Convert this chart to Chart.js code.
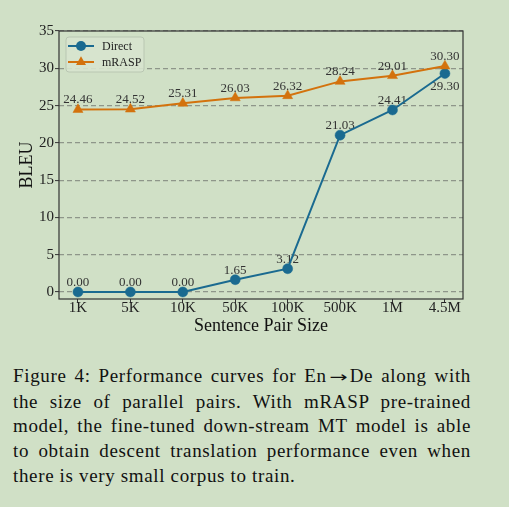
<!DOCTYPE html>
<html><head><meta charset="utf-8">
<script src="https://cdn.jsdelivr.net/npm/chart.js@4.4.0/dist/chart.umd.min.js"></script>
<style>
html,body{margin:0;padding:0;background:#d0e0c6;width:509px;height:507px;overflow:hidden;}
#wrap{position:absolute;left:0;top:0;width:509px;height:345px;}
#cap{position:absolute;left:13px;top:364px;width:458px;font-family:'Liberation Serif','Times New Roman',serif;font-size:19px;line-height:24.7px;letter-spacing:0.65px;text-align:justify;color:#111;}
#arr{display:inline-block;width:23px;text-align:center;letter-spacing:0;}
#arr span{display:inline-block;font-family:'DejaVu Sans',sans-serif;font-size:15px;transform:scaleX(1.45);}
</style></head><body>
<div id="wrap"><canvas id="c" width="509" height="345"></canvas></div>
<div id="cap">Figure 4: Performance curves for En<span id="arr"><span>→</span></span>De along with the size of parallel pairs. With mRASP pre-trained model, the fine-tuned down-stream MT model is able to obtain descent translation performance even when there is very small corpus to train.</div>
<script>
const categories = ['1K','5K','10K','50K','100K','500K','1M','4.5M'];
const directValues = [0.00, 0.00, 0.00, 1.65, 3.12, 21.03, 24.41, 29.30];
const mraspValues = [24.46, 24.52, 25.31, 26.03, 26.32, 28.24, 29.01, 30.30];
const yTicks = [0, 5, 10, 15, 20, 25, 30, 35];
const seriesNames = ['Direct', 'mRASP'];

const BLUE = '#1a6a90', ORANGE = '#d3720d';
const SERIF = "'Liberation Serif','Times New Roman',serif";

const toPts = vals => vals.map((v, i) => ({x: i, y: v}));

const framePlugin = {
  id: 'frameAndLabels',
  beforeDatasetsDraw(chart) {
    const ctx = chart.ctx, a = chart.chartArea;
    ctx.save();
    ctx.strokeStyle = '#333';
    ctx.lineWidth = 1.2;
    ctx.strokeRect(a.left, a.top, a.right - a.left, a.bottom - a.top);
    ctx.font = '13px ' + SERIF;
    ctx.fillStyle = '#333';
    ctx.textAlign = 'center';
    ctx.textBaseline = 'alphabetic';
    chart.data.datasets.forEach((ds, di) => {
      const meta = chart.getDatasetMeta(di);
      meta.data.forEach((pt, i) => {
        const v = ds.data[i].y;
        const below = (di === 0 && i === ds.data.length - 1);
        const cy = below ? pt.y + 12 : pt.y - 10.5;
        ctx.fillText(v.toFixed(2), pt.x, cy + 4.4);
      });
    });
    ctx.restore();
  },
  afterDraw(chart) {
    const ctx = chart.ctx;
    ctx.save();
    const lx = 66, ly = 37, lw = 78, lh = 35, r = 3;
    ctx.beginPath();
    ctx.moveTo(lx + r, ly);
    ctx.arcTo(lx + lw, ly, lx + lw, ly + lh, r);
    ctx.arcTo(lx + lw, ly + lh, lx, ly + lh, r);
    ctx.arcTo(lx, ly + lh, lx, ly, r);
    ctx.arcTo(lx, ly, lx + lw, ly, r);
    ctx.closePath();
    ctx.fillStyle = 'rgba(215,228,206,0.9)';
    ctx.fill();
    ctx.strokeStyle = 'rgba(185,198,178,1)';
    ctx.lineWidth = 1;
    ctx.stroke();
    const rows = [46, 62];
    chart.data.datasets.forEach((ds, di) => {
      const y = rows[di];
      ctx.strokeStyle = ds.borderColor;
      ctx.lineWidth = 2;
      ctx.beginPath(); ctx.moveTo(68, y); ctx.lineTo(94, y); ctx.stroke();
      ctx.fillStyle = ds.borderColor;
      ctx.beginPath();
      if (ds.pointStyle === 'circle') {
        ctx.arc(81, y, 5, 0, Math.PI * 2);
      } else {
        const R = 5.8;
        ctx.moveTo(81, y - R);
        ctx.lineTo(81 + R * 0.866, y + R * 0.5);
        ctx.lineTo(81 - R * 0.866, y + R * 0.5);
        ctx.closePath();
      }
      ctx.fill();
      ctx.fillStyle = '#222';
      ctx.font = '12px ' + SERIF;
      ctx.textAlign = 'left';
      ctx.textBaseline = 'alphabetic';
      ctx.fillText(ds.label, 102, y + 4);
    });
    ctx.restore();
  }
};

new Chart(document.getElementById('c'), {
  type: 'line',
  data: {
    datasets: [
      {label: seriesNames[0], data: toPts(directValues), borderColor: BLUE, backgroundColor: BLUE,
       pointBackgroundColor: BLUE, pointBorderColor: BLUE, pointStyle: 'circle', pointRadius: 5,
       pointBorderWidth: 0.5, borderWidth: 2, tension: 0, order: 2},
      {label: seriesNames[1], data: toPts(mraspValues), borderColor: ORANGE, backgroundColor: ORANGE,
       pointBackgroundColor: ORANGE, pointBorderColor: ORANGE, pointStyle: 'triangle', pointRadius: 5.8,
       pointBorderWidth: 0.5, borderWidth: 2, tension: 0, order: 1}
    ]
  },
  options: {
    responsive: false,
    animation: false,
    devicePixelRatio: 1,
    layout: {padding: {top: 31, right: 46, left: 0, bottom: 0}},
    plugins: {legend: {display: false}, tooltip: {enabled: false}},
    scales: {
      x: {
        type: 'linear', min: -0.362, max: 7.345,
        afterBuildTicks: s => { s.ticks = categories.map((c, i) => ({value: i})); },
        afterFit: s => { s.height = 46; },
        ticks: {callback: v => categories[v], color: '#222', font: {family: SERIF, size: 15, lineHeight: 1.2}, padding: -4, maxRotation: 0, autoSkip: false},
        grid: {drawOnChartArea: false, tickLength: 4, tickColor: '#333', tickWidth: 1},
        border: {display: false},
        title: {display: true, text: 'Sentence Pair Size', color: '#111', font: {family: SERIF, size: 18, lineHeight: 1.2}, padding: {top: 0, bottom: 8}}
      },
      y: {
        min: -0.94, max: 35,
        afterBuildTicks: s => { s.ticks = yTicks.map(v => ({value: v})); },
        afterFit: s => { s.width = 59; },
        ticks: {color: '#222', font: {family: SERIF, size: 15}, padding: 1},
        grid: {color: 'rgba(120,125,118,0.75)', lineWidth: 1.2, tickLength: 4, tickColor: '#333', tickWidth: 1, tickBorderDash: []},
        border: {display: false, dash: [5, 3]},
        title: {display: true, text: 'BLEU', color: '#111', font: {family: SERIF, size: 18, lineHeight: 1.2}, padding: {top: 16, bottom: 0}}
      }
    }
  },
  plugins: [framePlugin]
});
</script>
</body></html>
